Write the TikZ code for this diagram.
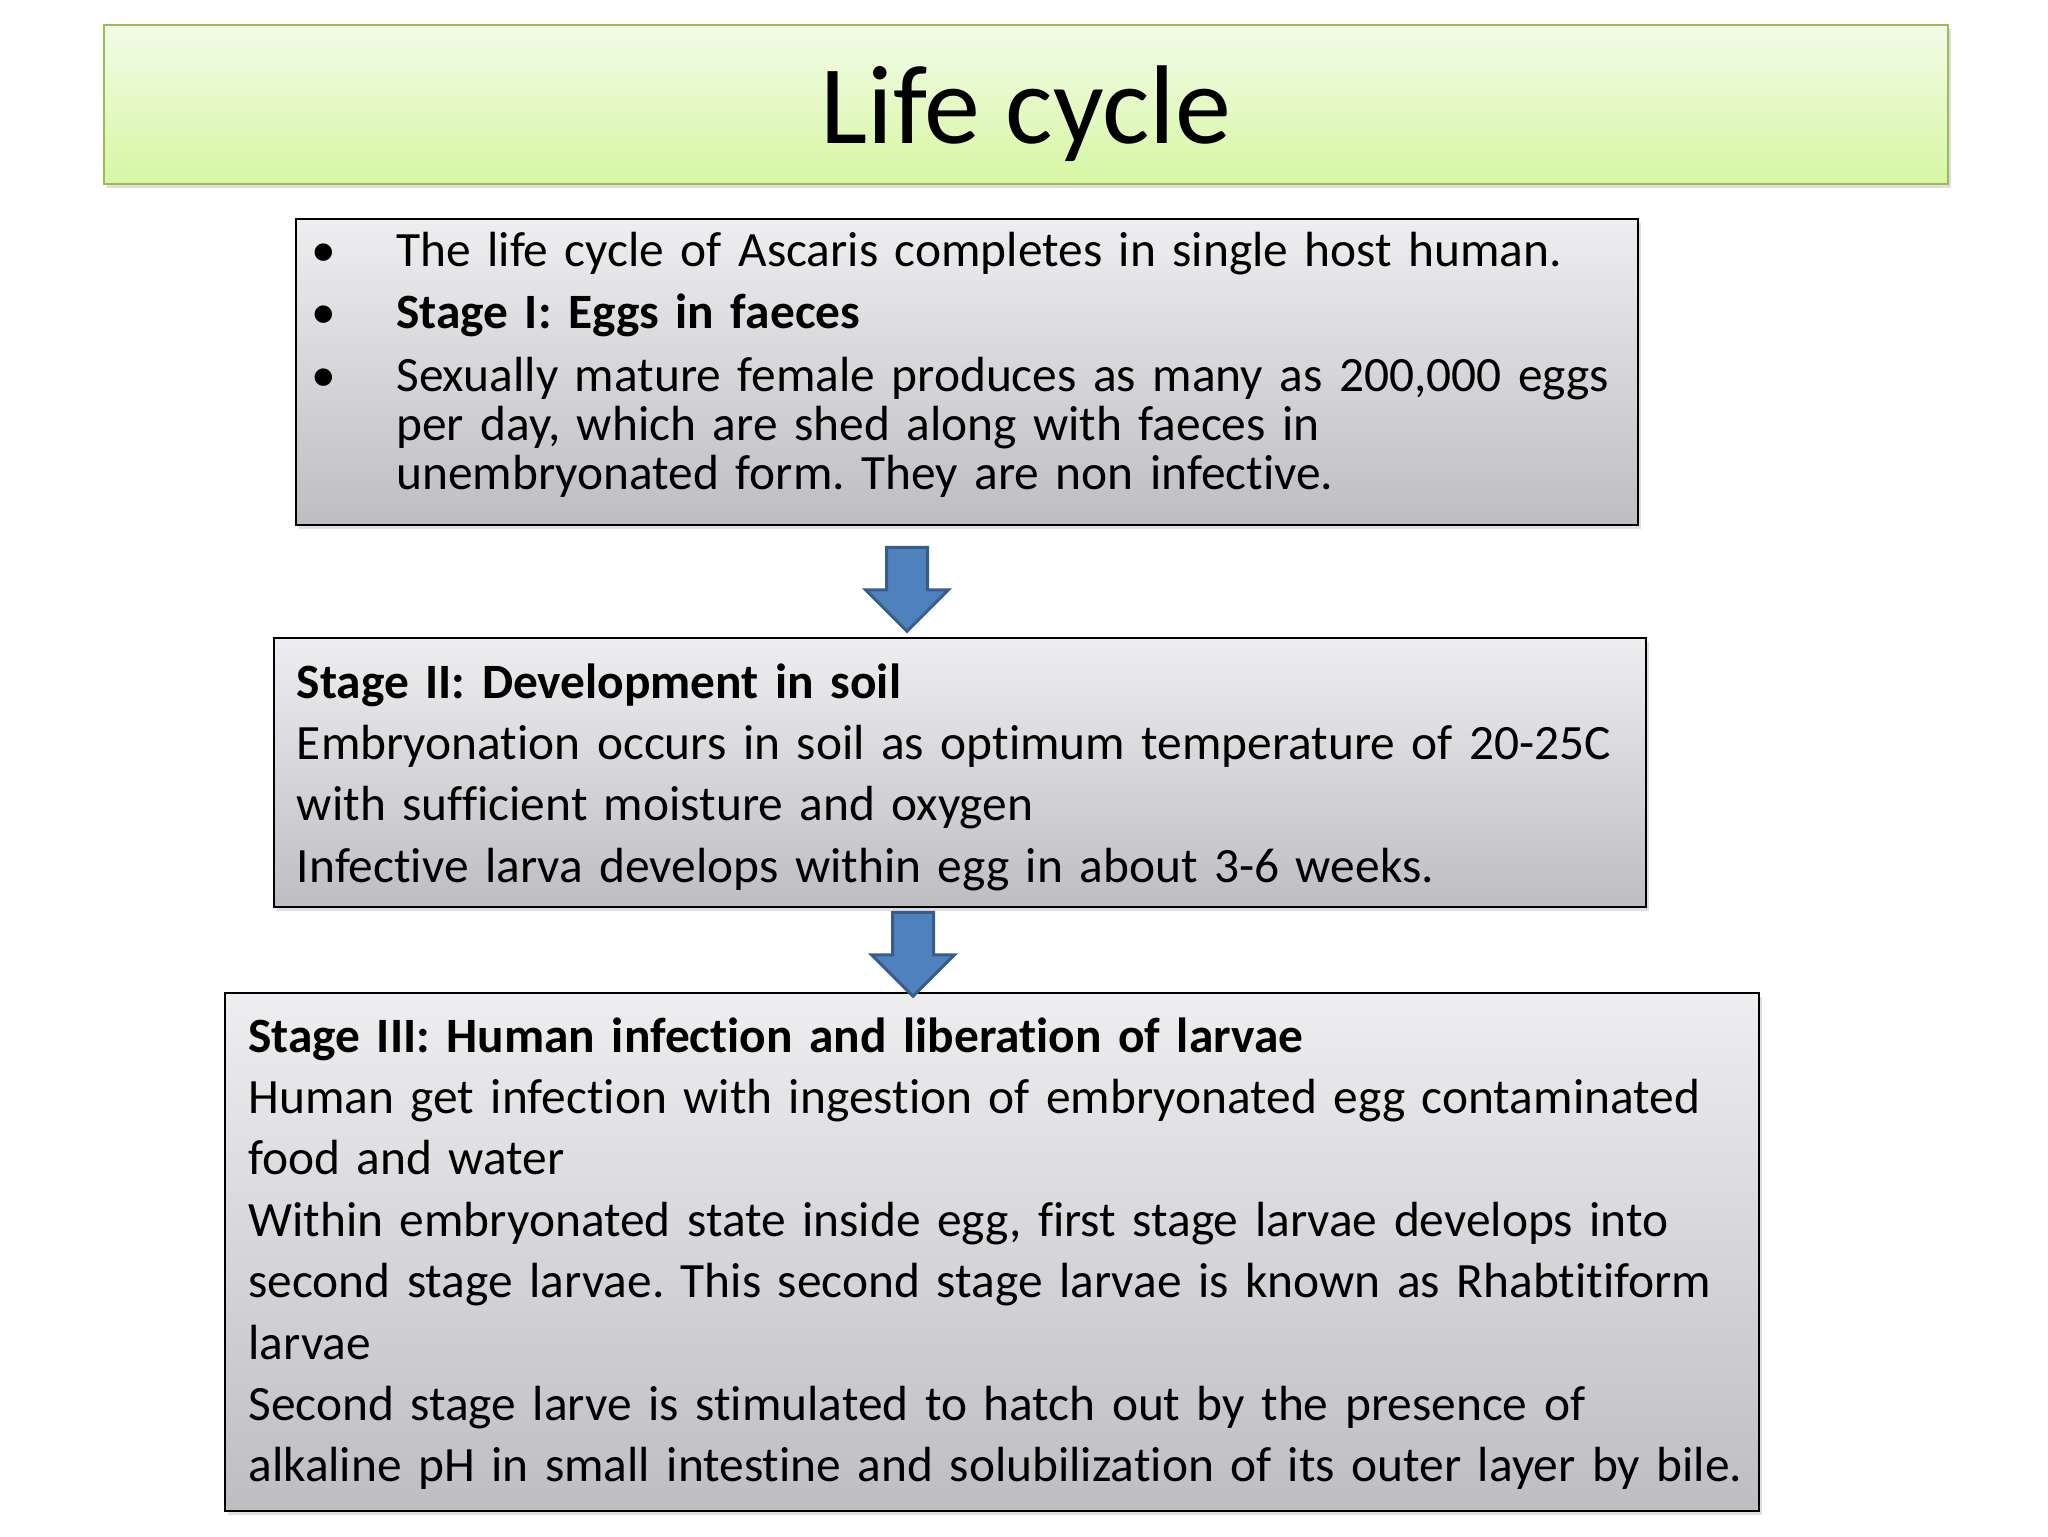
\documentclass[tikz,border=0pt]{standalone}
\usepackage{fontspec}
\setmainfont{Carlito}[Ligatures=NoCommon]
\usetikzlibrary{shapes.arrows,shadows}

\definecolor{titletop}{RGB}{242,252,232}
\definecolor{titlebot}{RGB}{215,246,162}
\definecolor{titleline}{RGB}{155,187,89}
\definecolor{boxtop}{RGB}{238,238,241}
\definecolor{boxbot}{RGB}{190,190,194}
\definecolor{arrfill}{RGB}{79,129,189}
\definecolor{arrline}{RGB}{56,93,138}

\hyphenpenalty=10000
\exhyphenpenalty=10000
\frenchspacing

\newcommand{\bulitem}[1]{\noindent\hangindent=42.5pt\hangafter=1\makebox[42.5pt][l]{\textbullet}#1\par}

\begin{document}
\begin{tikzpicture}[x=0.5pt,y=-0.5pt,
  titlebox/.style={draw=titleline,line width=1pt,top color=titletop,bottom color=titlebot,
    anchor=north west,inner sep=0pt,outer sep=0pt,
    drop shadow={shadow xshift=1.5pt,shadow yshift=-2pt,opacity=0.25}},
  stagebox/.style={draw=black,line width=1pt,top color=boxtop,bottom color=boxbot,
    anchor=north west,inner sep=0pt,outer sep=0pt,
    drop shadow={shadow xshift=1.5pt,shadow yshift=-2pt,opacity=0.25}},
  bodytext/.style={anchor=base west,inner sep=0pt,align=left,
    font=\fontsize{24.7pt}{30.7pt}\selectfont},
  downarrow/.style={single arrow,draw=arrline,fill=arrfill,line width=1.5pt,
    rotate=-90,minimum height=42pt,minimum width=40pt,inner xsep=0pt,inner ysep=9.5pt,
    single arrow head extend=10.5pt,single arrow tip angle=90}]
\useasboundingbox (0,0) rectangle (2048,1536);
\fill[white] (0,0) rectangle (2048,1536);

% heading
\node[titlebox,minimum width=922pt,minimum height=79.5pt] (title) at (104,25) {};
\node[anchor=base,inner sep=0pt,font=\fontsize{56pt}{60pt}\selectfont,yshift=-59.4pt]
  (titletext) at (title.north) {Life cycle};

% the three stages
\node[stagebox,minimum width=671pt,minimum height=153pt] (stage1) at (296,219) {};
\node[stagebox,minimum width=686pt,minimum height=134.5pt] (stage2) at (274,638) {};
\node[stagebox,minimum width=767pt,minimum height=259pt] (stage3) at (225,993) {};

\node[anchor=base west,inner sep=0pt,text width=660pt,
  font=\fontsize{24.7pt}{24.5pt}\selectfont,
  xshift=7.5pt,yshift=-23.5pt] (text1) at (stage1.north west)
  {\raggedright\lineskiplimit=-20pt\parskip=6.8pt
   \bulitem{The life cycle of Ascaris completes in single host human.}%
   \bulitem{\textbf{Stage I: Eggs in faeces}}%
   \bulitem{Sexually mature female produces as many as 200,000 eggs\newline
   per day, which are shed along with faeces in\newline
   unembryonated form. They are non infective.}};

\node[bodytext,text width=675pt,xshift=11.25pt,yshift=-30pt] (text2) at (stage2.north west)
  {\textbf{Stage II: Development in soil}\\
   Embryonation occurs in soil as optimum temperature of 20-25C\\
   with sufficient moisture and oxygen\\
   Infective larva develops within egg in about 3-6 weeks.};

\node[bodytext,text width=760pt,xshift=11.5pt,yshift=-29.5pt] (text3) at (stage3.north west)
  {\textbf{Stage III: Human infection and liberation of larvae}\\
   Human get infection with ingestion of embryonated egg contaminated\\
   food and water\\
   Within embryonated state inside egg,\ first stage larvae develops into\\
   second stage larvae. This second stage larvae is known as Rhabtitiform\\
   larvae\\
   Second stage larve is stimulated to hatch out by the presence of\\
   alkaline pH in small intestine and solubilization of its outer layer by bile.};

% arrows between stages
\node[downarrow] (arrow12) at (907,579) {};
\node[downarrow] (arrow23) at (913,944) {};
\end{tikzpicture}
\end{document}
